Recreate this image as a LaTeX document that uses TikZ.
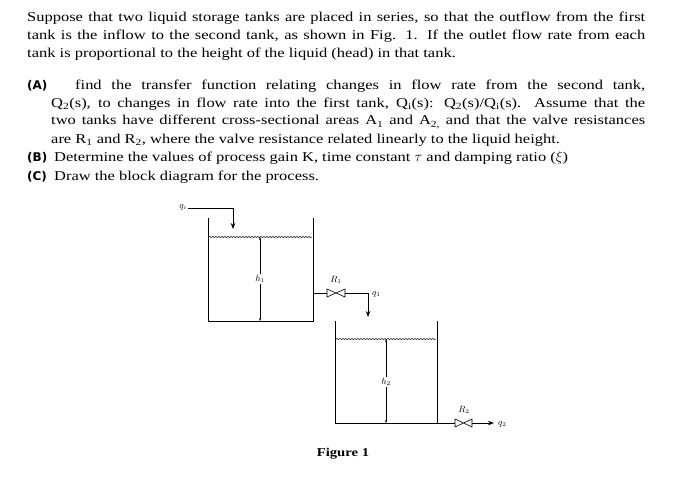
\documentclass[tikz,border=0pt]{standalone}
\usepackage{fontspec}
\setmainfont{Liberation Serif}[FakeStretch=1.22]
\newfontfamily\lab{DejaVu Sans}
\usetikzlibrary{decorations.pathmorphing,arrows.meta}
\begin{document}
\begin{tikzpicture}[x=1pt,y=-1pt,
  txt/.style={anchor=west,inner sep=0pt,font=\fontsize{13.5}{15}\selectfont},
  lbl/.style={anchor=west,inner sep=0pt,font=\lab\bfseries\fontsize{12}{13}\selectfont},
  wall/.style={line width=1pt},
  pipe/.style={line width=0.8pt},
  wave/.style={decorate,decoration={snake,amplitude=0.5pt,segment length=3pt},line width=0.5pt},
  harr/.style={line width=0.5pt,{Stealth[length=3pt]}-{Stealth[length=3pt]}},
  flow/.style={line width=0.8pt,-{Stealth[length=6pt]}},
  valve/.style={line width=0.6pt},
  sym/.style={inner sep=1pt,font=\itshape\fontsize{9}{10}\selectfont}]
\useasboundingbox (0,0) rectangle (700,479);
\fill[white] (0,0) rectangle (700,479);
% text
\node[txt] (l1) at (27,18) {\makebox[618pt][s]{Suppose that two liquid storage tanks are placed in series, so that the outflow from the first}};
\node[txt] (l2) at (27,36) {\makebox[618pt][s]{tank is the inflow to the second tank, as shown in Fig. 1. If the outlet flow rate from each}};
\node[txt] (l3) at (27,54) {tank is proportional to the height of the liquid (head) in that tank.};
\node[lbl] (A) at (27,86) {(A)};
\node[txt] (a1) at (75,86) {\makebox[570pt][s]{find the transfer function relating changes in flow rate from the second tank,}};
\node[txt] (a2) at (51,104) {\makebox[594pt][s]{Q\textsubscript{2}(s), to changes in flow rate into the first tank, Q\textsubscript{i}(s): Q\textsubscript{2}(s)/Q\textsubscript{i}(s). Assume that the}};
\node[txt] (a3) at (51,122) {\makebox[594pt][s]{two tanks have different cross-sectional areas A\textsubscript{1} and A\textsubscript{2,} and that the valve resistances}};
\node[txt] (a4) at (51,140) {are R\textsubscript{1} and R\textsubscript{2}, where the valve resistance related linearly to the liquid height.};
\node[lbl] (B) at (27,158) {(B)};
\node[txt] (b1) at (54,158) {Determine the values of process gain K, time constant $\tau$ and damping ratio ($\xi$)};
\node[lbl] (C) at (27,177) {(C)};
\node[txt] (c1) at (54,177) {Draw the block diagram for the process.};
% tank 1
\draw[wall] (208,218) -- (208,321) -- (313,321) -- (313,218);
\draw[wave] (209,237) -- (312,237);
\coordinate (t1s) at (260,237); \coordinate (t1b) at (260,321);
\draw[harr] (t1s) -- (t1b);
\node[sym,fill=white] (h1) at (260,279) {$h_1$};
% inflow
\node[sym,anchor=east] (qi) at (188,207) {$q_i$};
\coordinate (in1) at (233,208); \coordinate (in2) at (233,229);
\draw[flow] (qi.east |- in1) -- (in1) -- (in2);
% valve 1
\coordinate (p1) at (313,293); \coordinate (v1a) at (327,293); \coordinate (v1b) at (345,293);
\coordinate (p1c) at (368,293); \coordinate (p1d) at (368,317);
\draw[pipe] (p1) -- (v1a);
\draw[valve] (327,289) -- (345,297) -- (345,289) -- (327,297) -- cycle;
\draw[flow] (v1b) -- (p1c) -- (p1d);
\node[sym] (R1) at (336,280) {$R_1$};
\node[sym,anchor=west] (q1) at (371,294) {$q_1$};
% tank 2
\draw[wall] (335,321) -- (335,423) -- (437,423) -- (437,321);
\draw[wave] (336,339) -- (436,339);
\coordinate (t2s) at (386,339); \coordinate (t2b) at (386,423);
\draw[harr] (t2s) -- (t2b);
\node[sym,fill=white] (h2) at (386,382) {$h_2$};
% valve 2
\coordinate (p2) at (437,423); \coordinate (v2a) at (455,423); \coordinate (v2b) at (472,423);
\coordinate (p2e) at (494,423);
\draw[pipe] (p2) -- (v2a);
\draw[valve] (455,419) -- (472,427) -- (472,419) -- (455,427) -- cycle;
\draw[flow] (v2b) -- (p2e);
\node[sym] (R2) at (464,410) {$R_2$};
\node[sym,anchor=west] (q2) at (497,424) {$q_2$};
% caption
\node[inner sep=0pt,font=\bfseries\fontsize{12}{13}\selectfont] (cap) at (343,454) {Figure 1};
\end{tikzpicture}
\end{document}
